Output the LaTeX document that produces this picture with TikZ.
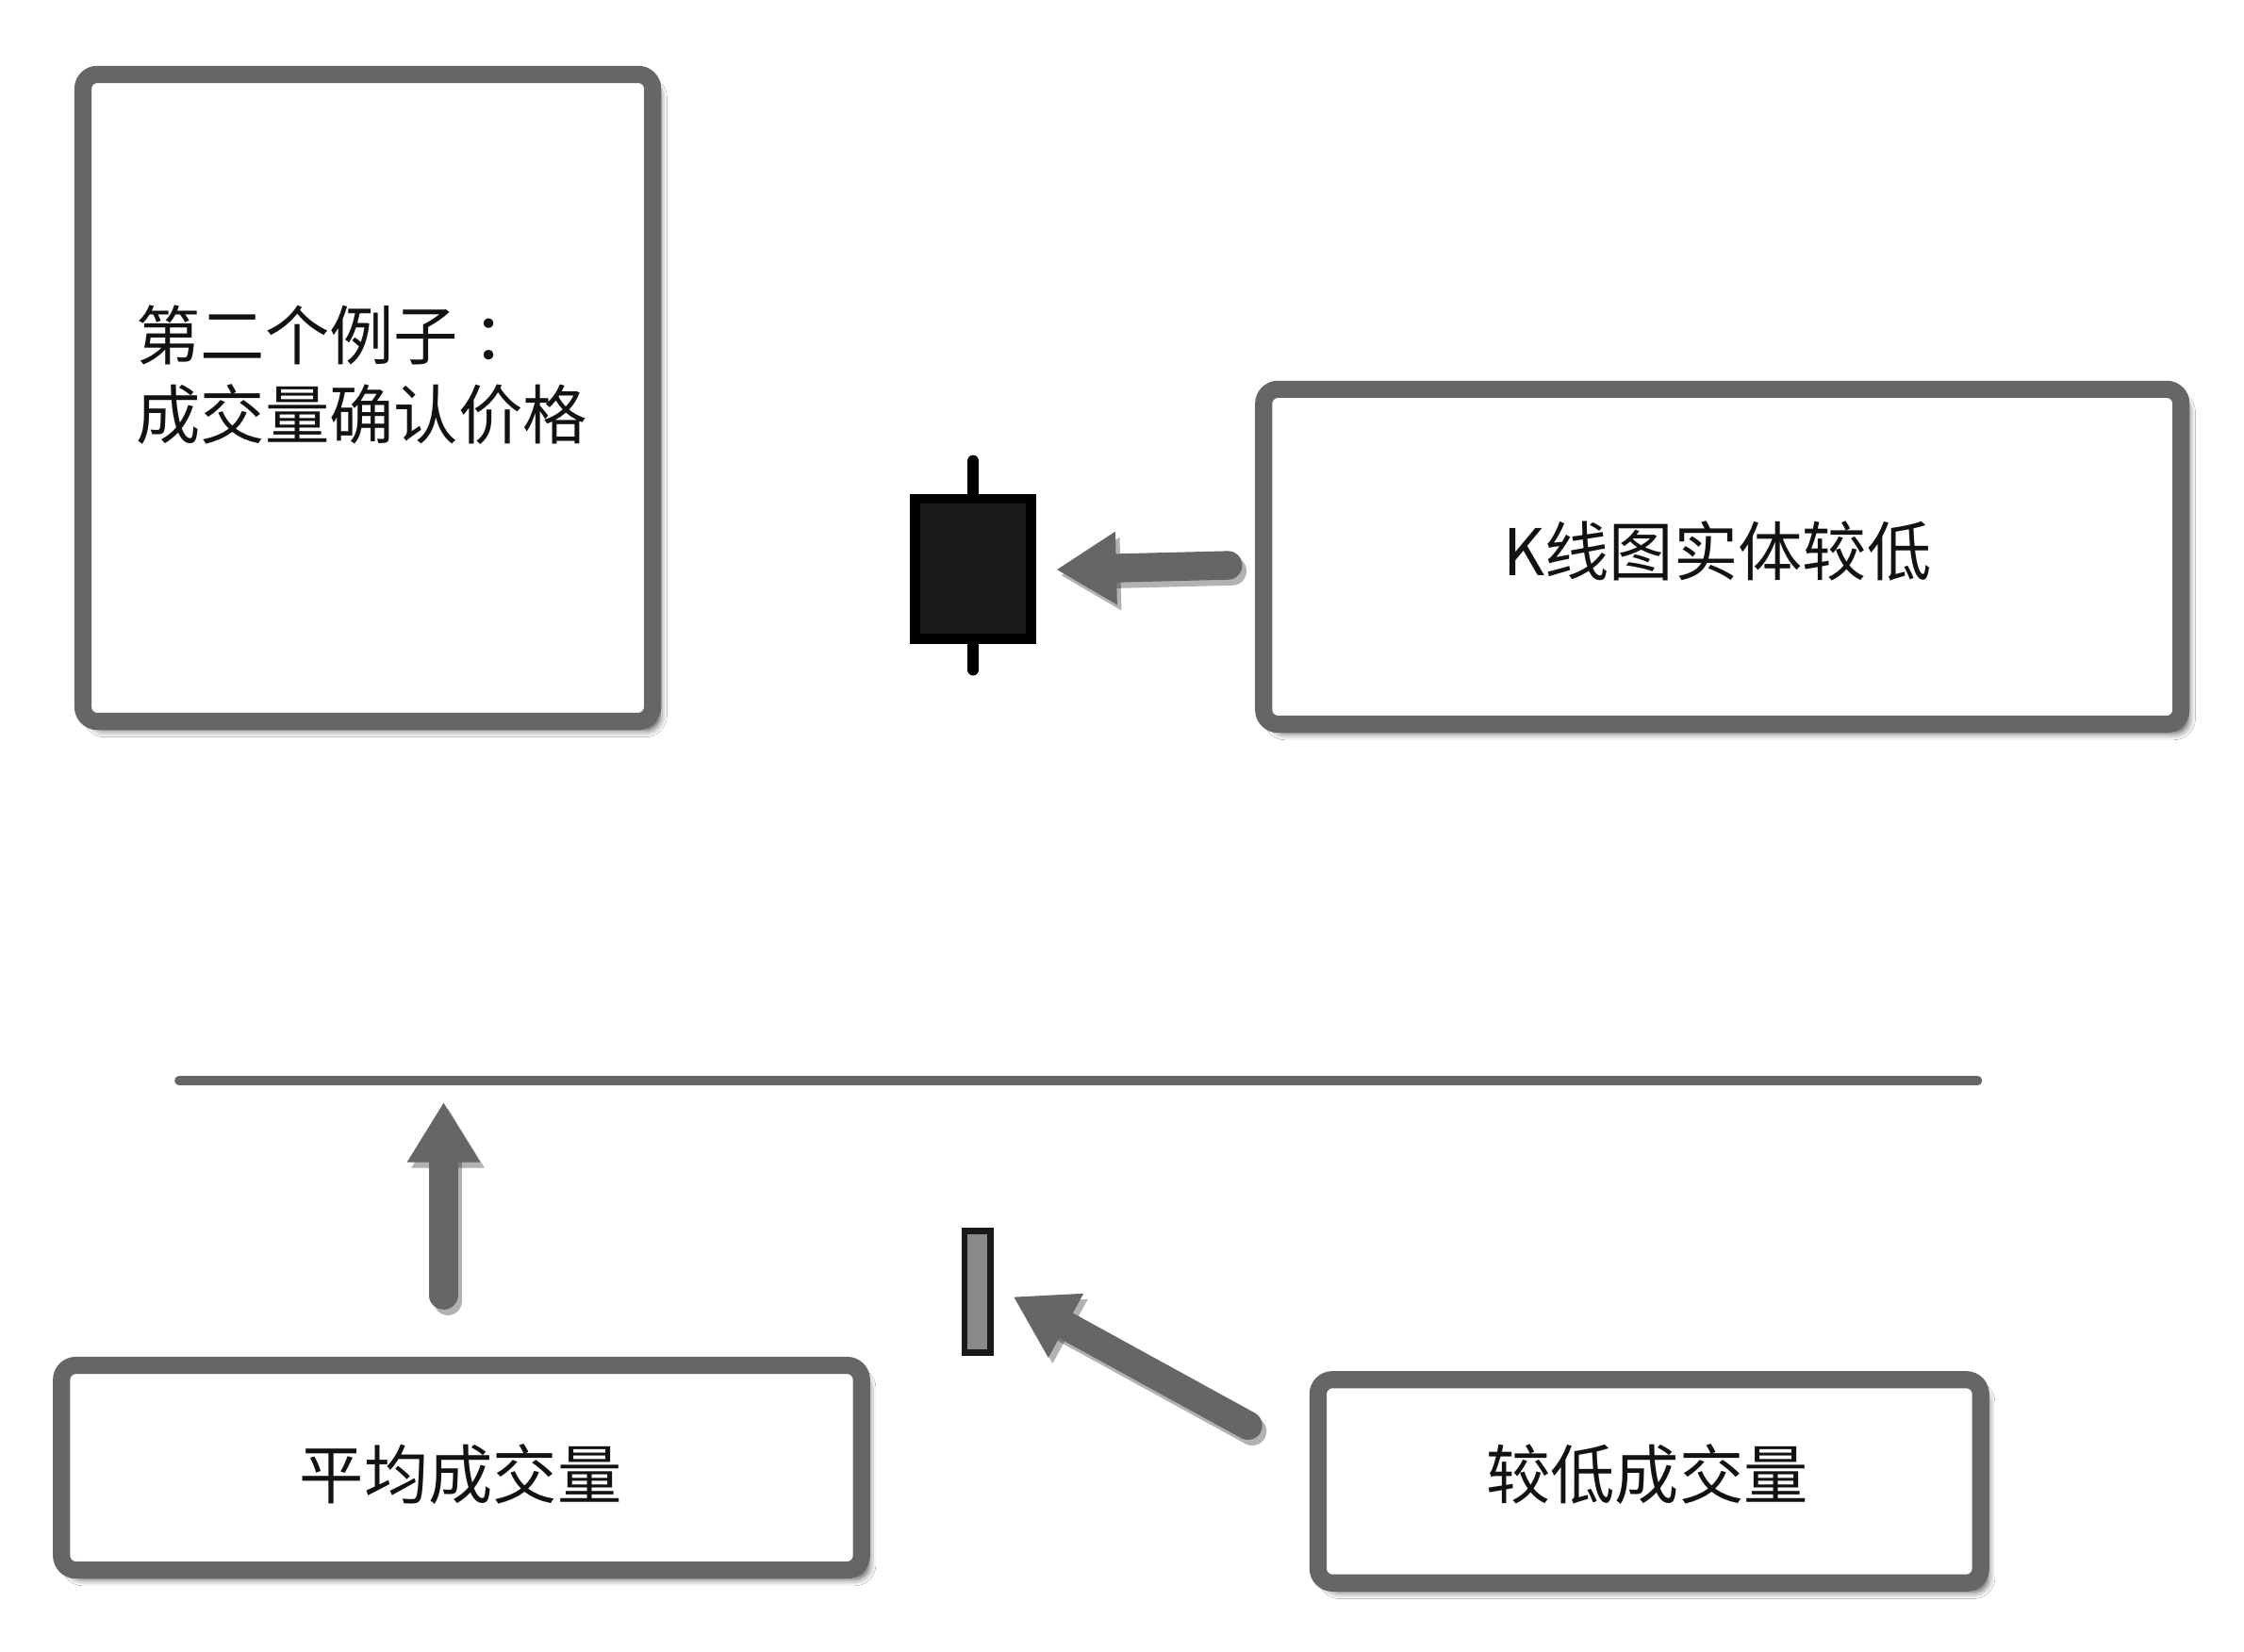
\documentclass[tikz,border=0pt]{standalone}
\usepackage{fontspec}
\setmainfont{Noto Sans CJK SC}
\usetikzlibrary{arrows.meta,shadows.blur}
\definecolor{bord}{HTML}{666666}
\definecolor{candfill}{HTML}{1A1A1A}
\definecolor{barfill}{HTML}{8A8A8A}
\tikzset{
  box/.style={draw=bord, line width=12pt, fill=white, rounded corners=10pt,
    blur shadow={shadow xshift=5pt, shadow yshift=-6pt, shadow blur radius=5pt, shadow opacity=75},
    inner sep=0pt},
  lbl/.style={font=\fontsize{45}{55}\selectfont, inner sep=0pt, text=black!93},
  fat/.style={draw=bord, line width=20pt, line cap=round, -{Triangle[width=48pt,length=42pt]}},
  fatsh/.style={draw=black, opacity=0.3, line width=20pt, line cap=round, -{Triangle[width=48pt,length=42pt]}, transform canvas={shift={(3pt,-4pt)}}},
  wick/.style={draw=black, line width=8pt, line cap=round},
}
\begin{document}
\begin{tikzpicture}[x=1pt,y=-1pt]
\useasboundingbox[fill=white] (0,0) rectangle (1568,1154);

% boxes
\node[box, minimum width=398pt, minimum height=452pt] (b1) at (257,278) {};
\node[lbl, anchor=west, align=left] (t1) at (95,262) {第二个例子 ：\\成交量确认价格};

\node[box, minimum width=641pt, minimum height=234pt] (b2) at (1203.5,389) {};
\node[lbl] (t2) at (1200,385) {K线图实体较低};

\node[box, minimum width=559pt, minimum height=143pt] (b3) at (322.5,1025.5) {};
\node[lbl] (t3) at (322,1030) {平均成交量};

\node[box, minimum width=463pt, minimum height=142pt] (b4) at (1152.5,1035) {};
\node[lbl] (t4) at (1151,1030) {较低成交量};

% candlestick
\node[draw=black, fill=candfill, line width=7pt, minimum width=81pt, minimum height=98pt, inner sep=0pt] (candle) at (680,397.5) {};
\coordinate (wtop) at (680,322);
\coordinate (wbot) at (680,468);
\draw[wick] (wtop) -- (candle.north);
\draw[wick] (candle.south) -- (wbot);

% small volume bar
\node[draw=black!90, fill=barfill, line width=4.5pt, minimum width=18pt, minimum height=85pt, inner sep=0pt] (bar) at (683,902.5) {};

% horizontal line
\coordinate (l1) at (125,755);
\coordinate (l2) at (1382,755);
\draw[draw=bord, line width=6pt, line cap=round] (l1) -- (l2);

% arrows
\coordinate (a1s) at (858,395);
\coordinate (a1e) at (738,398);
\draw[fatsh] (a1s) -- (a1e);
\draw[fat] (a1s) -- (a1e);

\coordinate (a2s) at (310,905);
\coordinate (a2e) at (310,770);
\draw[fatsh] (a2s) -- (a2e);
\draw[fat] (a2s) -- (a2e);

\coordinate (a3s) at (872,996);
\coordinate (a3e) at (708,906);
\draw[fatsh] (a3s) -- (a3e);
\draw[fat] (a3s) -- (a3e);
\end{tikzpicture}
\end{document}
